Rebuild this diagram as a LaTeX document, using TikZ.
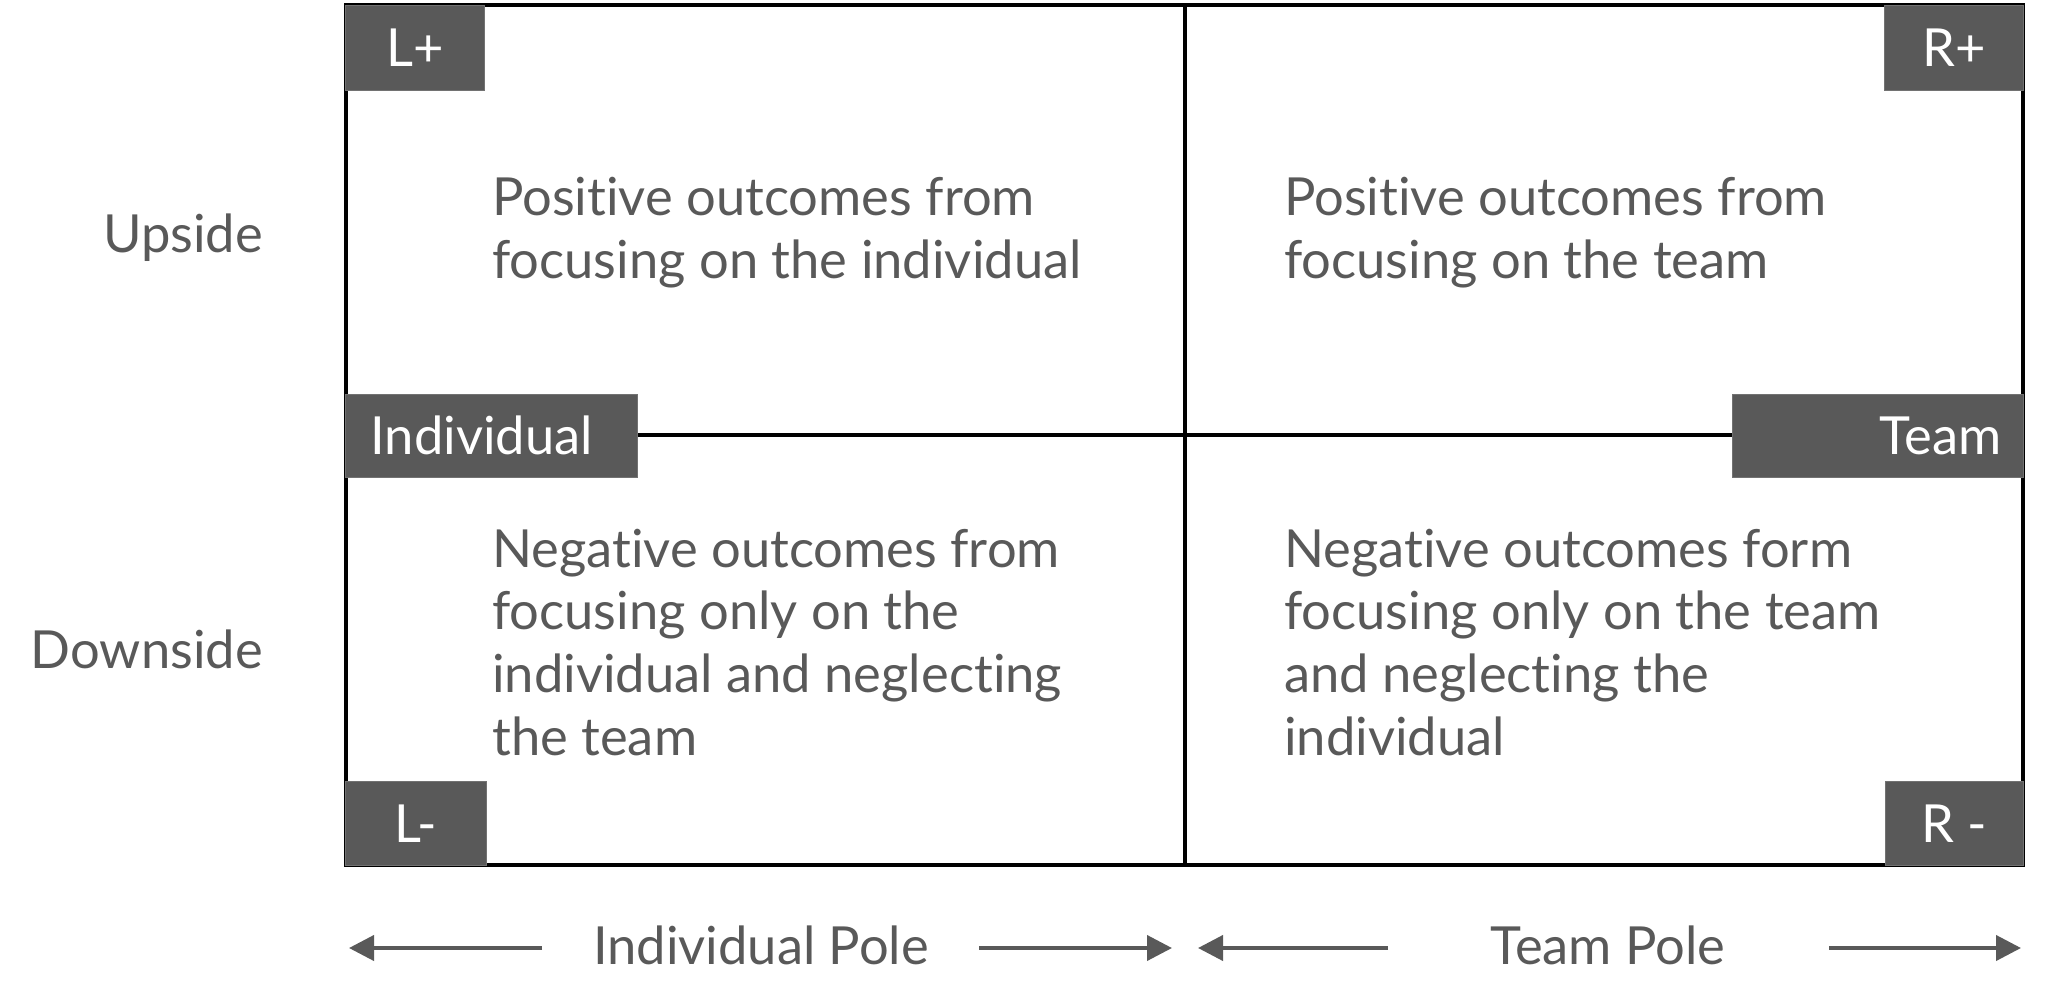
\documentclass[tikz,border=0pt]{standalone}
\usepackage{fontspec}
\setmainfont{Lato}[Ligatures=NoCommon]
\usetikzlibrary{arrows.meta}
\definecolor{dgray}{HTML}{595959}
\tikzset{
  gridline/.style={draw=black, line width=3.5pt},
  tagbox/.style={fill=dgray, draw=dgray!85!white, line width=1pt, text=white, inner sep=0pt,
     font=\fontsize{52.5}{60}\selectfont},
  side/.style={text=dgray, inner sep=0pt, anchor=base east, font=\fontsize{52.5}{60}\selectfont},
  body/.style={text=dgray, inner sep=0pt, anchor=base west, font=\fontsize{52.5}{62.7}\selectfont},
  pole/.style={text=dgray, inner sep=0pt, anchor=base, font=\fontsize{52.5}{60}\selectfont},
  polearrow/.style={draw=dgray, line width=4pt, -{Triangle[length=25pt,width=25pt]}}
}
\newcommand{\bodytext}[1]{\parbox[t]{760pt}{\raggedright #1}}
\begin{document}
\begin{tikzpicture}[x=1pt,y=-1pt]
\useasboundingbox (0,0) rectangle (2048,1008);
% grid corners
\coordinate (nw) at (346,5);
\coordinate (se) at (2023,865);
\coordinate (vtop) at (1185,5);
\coordinate (vbot) at (1185,865);
\coordinate (hl) at (346,435);
\coordinate (hr) at (2023,435);
\draw[gridline] (nw) rectangle (se);
\draw[gridline] (vtop) -- (vbot);
\draw[gridline] (hl) -- (hr);
% corner tags
\node[tagbox, minimum width=139pt, minimum height=85pt, anchor=north west] (lp) at (345,5) {L+};
\node[tagbox, minimum width=139pt, minimum height=85pt, anchor=north east] (rp) at (2024,5) {R+};
\node[tagbox, minimum width=141pt, minimum height=84pt, anchor=south west] (lm) at (345,866) {L-};
\node[tagbox, minimum width=138pt, minimum height=84pt, anchor=south east] (rm) at (2024,866) {R -};
\node[tagbox, text width=242pt, inner xsep=25pt, align=left, minimum height=83pt, anchor=west] (ind) at (345,435.5) {Individual};
\node[tagbox, text width=247pt, inner xsep=22pt, align=right, minimum height=83pt, anchor=east] (team) at (2024,435.5) {Team};
% side labels
\node[side] (up) at (263,253) {Upside};
\node[side] (down) at (263,668) {Downside};
% quadrant texts
\node[body] (q1) at (492,216) {\bodytext{Positive outcomes from\\focusing on the individual}};
\node[body] (q2) at (1284,216) {\bodytext{Positive outcomes from\\focusing on the team}};
\node[body] (q3) at (492,567) {\bodytext{Negative outcomes from\\focusing only on the\\individual and neglecting\\the team}};
\node[body] (q4) at (1284,567) {\bodytext{Negative outcomes form\\focusing only on the team\\and neglecting the\\individual}};
% poles
\node[pole] (ip) at (761,964) {Individual Pole};
\node[pole] (tp) at (1608,964) {Team Pole};
\coordinate (ia1) at (542,948);
\coordinate (ia1t) at (349,948);
\coordinate (ia2) at (979,948);
\coordinate (ia2t) at (1172,948);
\coordinate (ta1) at (1388,948);
\coordinate (ta1t) at (1198,948);
\coordinate (ta2) at (1829,948);
\coordinate (ta2t) at (2021,948);
\draw[polearrow] (ia1) -- (ia1t);
\draw[polearrow] (ia2) -- (ia2t);
\draw[polearrow] (ta1) -- (ta1t);
\draw[polearrow] (ta2) -- (ta2t);
\end{tikzpicture}
\end{document}
